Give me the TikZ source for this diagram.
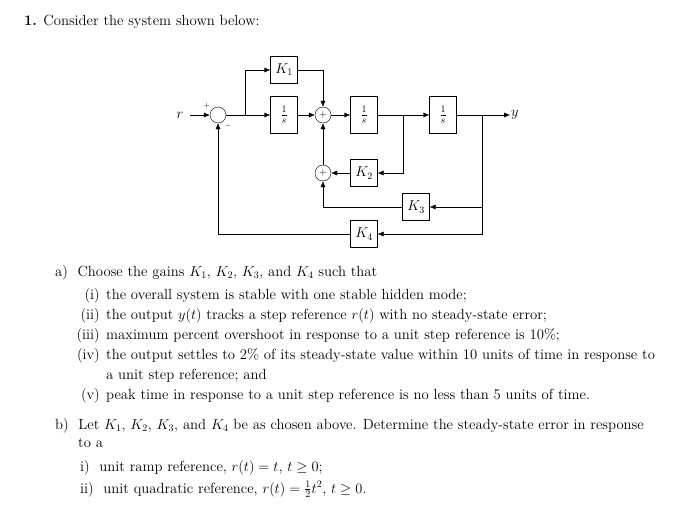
\documentclass[tikz,border=0pt]{standalone}
\usetikzlibrary{arrows.meta}
\begin{document}
\begin{tikzpicture}[x=1pt,y=-1pt,font=\fontsize{14.7}{17}\selectfont,
  blk/.style={draw,minimum width=27pt,minimum height=27pt,inner sep=1pt},
  blkt/.style={draw,minimum width=27pt,minimum height=37pt,inner sep=1pt},
  sumn/.style={draw,circle,minimum size=16pt,inner sep=0pt},
  conn/.style={-{Latex[length=6pt,width=5pt]}},
  txt/.style={anchor=base west,inner sep=0pt},
  lab/.style={anchor=base east,inner sep=0pt}]
\useasboundingbox (0,0) rectangle (700,508);
% diagram
\node[sumn] (s1) at (218,115) {};
\node[sumn,font=\normalsize] (s2) at (323,115) {$+$};
\node[sumn,font=\normalsize] (s3) at (323,173) {$+$};
\node[blk] (k1) at (284,70) {$K_1$};
\node[blkt] (i1) at (284,115) {$\frac{1}{s}$};
\node[blkt] (i2) at (364,115) {$\frac{1}{s}$};
\node[blkt] (i3) at (443,115) {$\frac{1}{s}$};
\node[blk] (k2) at (364,173) {$K_2$};
\node[blk] (k3) at (416,207) {$K_3$};
\node[blk] (k4) at (364,234) {$K_4$};
\node (r) at (180,115) {$r$};
\coordinate (rin) at (190,115);
\node[anchor=west,inner sep=1pt] (y) at (510,115) {$y$};
\coordinate (yend) at (510,115);
\coordinate (p1) at (245,115);
\coordinate (p2) at (403,115);
\coordinate (p3) at (482,115);
\node[font=\scriptsize] at (207,106) {$+$};
\node[font=\scriptsize] at (228,126) {$-$};
\draw[conn] (rin) -- (s1);
\draw (s1) -- (p1);
\draw[conn] (p1) -- (i1);
\draw[conn] (p1) |- (k1);
\draw[conn] (i1) -- (s2);
\draw[conn] (k1) -| (s2);
\draw[conn] (s2) -- (i2);
\draw (i2) -- (p2);
\draw[conn] (p2) -- (i3);
\draw[conn] (i3) -- (yend);
\draw[conn] (p2) |- (k2);
\draw[conn] (k2) -- (s3);
\draw[conn] (s3) -- (s2);
\draw[conn] (p3) |- (k3);
\draw[conn] (k3) -| (s3);
\draw[conn] (p3) |- (k4);
\draw[conn] (k4) -| (s1);
% text
\node[txt] at (24,26) {\textbf{1.} Consider the system shown below:};
\node[txt] at (55,276) {a)~~Choose the gains $K_1$, $K_2$, $K_3$, and $K_4$ such that};
\node[lab] at (100,299) {(i)};
\node[txt] at (106,299) {the overall system is stable with one stable hidden mode;};
\node[lab] at (100,319) {(ii)};
\node[txt] at (106,319) {the output $y(t)$ tracks a step reference $r(t)$ with no steady-state error;};
\node[lab] at (100,339) {(iii)};
\node[txt] at (106,339) {maximum percent overshoot in response to a unit step reference is 10\%;};
\node[lab] at (100,359) {(iv)};
\node[txt] at (106,359) {the output settles to 2\% of its steady-state value within 10 units of time in response to};
\node[txt] at (106,379) {a unit step reference; and};
\node[lab] at (100,399) {(v)};
\node[txt] at (106,399) {peak time in response to a unit step reference is no less than 5 units of time.};
\node[txt] at (55,429) {b)~~Let $K_1$, $K_2$, $K_3$, and $K_4$ be as chosen above. Determine the steady-state error in response};
\node[txt] at (78,447) {to a};
\node[txt] at (80,471) {i)~~unit ramp reference, $r(t)=t$, $t\geq0$;};
\node[txt] at (80,493) {ii)~~unit quadratic reference, $r(t)=\frac{1}{2}t^2$, $t\geq0$.};
\end{tikzpicture}
\end{document}
